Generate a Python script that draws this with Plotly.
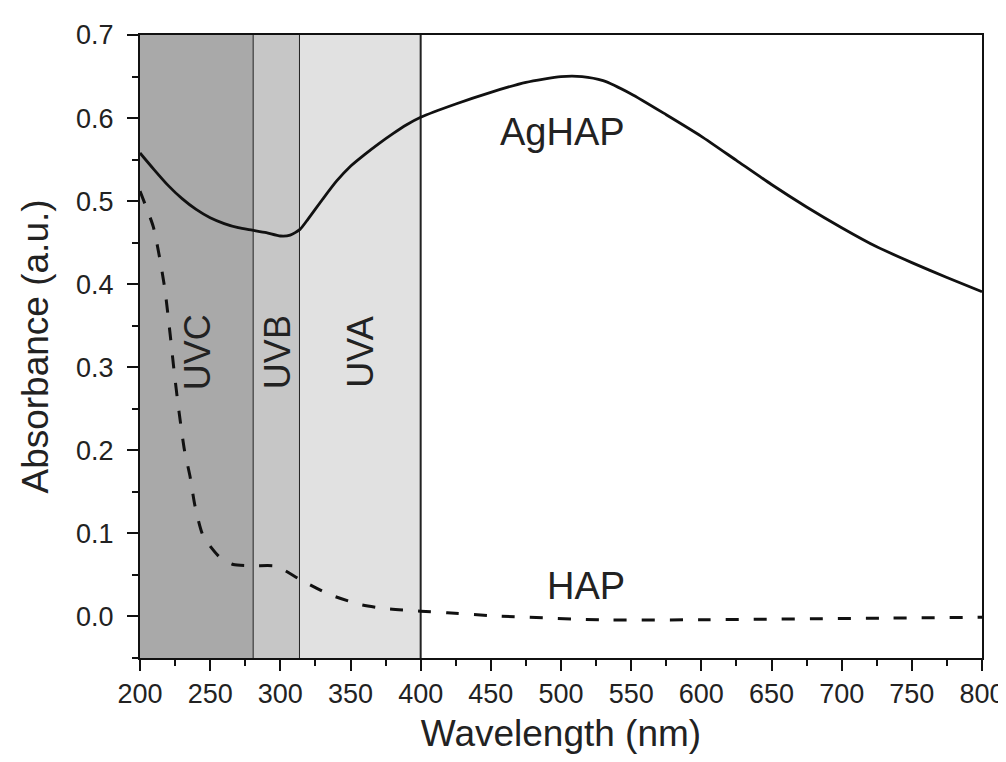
import plotly.graph_objects as go

# AgHAP spectrum (solid line)
ag_wl = [200, 210, 220, 230, 240, 250, 260, 270, 280, 290, 300, 307, 314, 320, 330, 340,
         350, 360, 370, 380, 390, 400, 425, 450, 475, 500, 515, 530, 550, 575, 600, 625,
         650, 675, 700, 725, 750, 775, 800]
ag_abs = [0.558, 0.538, 0.519, 0.503, 0.490, 0.480, 0.473, 0.468, 0.465, 0.462, 0.458,
          0.459, 0.466, 0.479, 0.502, 0.524, 0.542, 0.556, 0.569, 0.581, 0.592, 0.601,
          0.617, 0.631, 0.643, 0.650, 0.650, 0.645, 0.629, 0.604, 0.578, 0.549, 0.520,
          0.493, 0.468, 0.445, 0.426, 0.408, 0.391]

# HAP spectrum (dashed line)
hap_wl = [200, 209.5, 214.3, 217.8, 221.4, 224.2, 227.3, 231.6, 235.6, 239.2, 245, 257,
          266.5, 281, 297, 314, 335, 357, 376, 400, 419, 450, 528, 600, 730, 800]
hap_abs = [0.512, 0.469, 0.429, 0.393, 0.341, 0.297, 0.253, 0.201, 0.169, 0.133, 0.097,
           0.071, 0.0625, 0.061, 0.0605, 0.0445, 0.0265, 0.0144, 0.0092, 0.0064, 0.0044,
           0.001, -0.004, -0.004, -0.002, -0.001]

# UV bands
band_names = ["UVC", "UVB", "UVA"]
band_start = [200, 281, 314]
band_end = [281, 314, 400]
band_colors = ["#a9a9a9", "#c6c6c6", "#e1e1e1"]

font_family = "Liberation Sans, Arial, sans-serif"
y_min, y_max = -0.05, 0.7

fig = go.Figure()

# shaded bands + their boundary lines
for name, x0, x1, col in zip(band_names, band_start, band_end, band_colors):
    fig.add_shape(type="rect", xref="x", yref="y", x0=x0, x1=x1, y0=y_min, y1=y_max,
                  fillcolor=col, line_width=0, layer="below")
    fig.add_shape(type="line", xref="x", yref="y", x0=x1, x1=x1, y0=y_min, y1=y_max,
                  line=dict(color="#222222", width=2), layer="below")
    fig.add_annotation(x=(x0 + x1) / 2, y=0.318, text=name, showarrow=False, textangle=-90,
                       font=dict(family=font_family, size=36, color="#222222"))

fig.add_trace(go.Scatter(x=ag_wl, y=ag_abs, mode="lines", name="AgHAP",
                         line=dict(color="#111111", width=2.8, shape="spline", smoothing=0.6)))
fig.add_trace(go.Scatter(x=hap_wl, y=hap_abs, mode="lines", name="HAP",
                         line=dict(color="#111111", width=3, shape="spline", smoothing=0.6,
                                   dash="13px,15px")))

fig.add_annotation(x=501, y=0.583, text="AgHAP", showarrow=False,
                   font=dict(family=font_family, size=38, color="#222222"))
fig.add_annotation(x=518, y=0.037, text="HAP", showarrow=False,
                   font=dict(family=font_family, size=38, color="#222222"))

axis_common = dict(showline=True, linecolor="#111111", linewidth=2, mirror=True,
                   ticks="outside", ticklen=11, tickwidth=2, tickcolor="#111111",
                   showgrid=False, zeroline=False, automargin=False,
                   tickfont=dict(family=font_family, size=27, color="#222222"))

fig.update_xaxes(range=[200, 800], dtick=50, tick0=200,
                 minor=dict(ticks="outside", ticklen=6, tickwidth=2, tickcolor="#111111",
                            dtick=25, showgrid=False),
                 title=dict(text="Wavelength (nm)", standoff=12,
                            font=dict(family=font_family, size=37, color="#222222")),
                 **axis_common)
fig.update_yaxes(range=[y_min, y_max], dtick=0.1, tick0=0, tickformat=".1f",
                 ticklabelstandoff=8,
                 minor=dict(ticks="outside", ticklen=6, tickwidth=2, tickcolor="#111111",
                            dtick=0.05, tick0=0, showgrid=False),
                 title=dict(text="Absorbance (a.u.)", standoff=16,
                            font=dict(family=font_family, size=37, color="#222222")),
                 **axis_common)

# the page adds an 8px body margin, so the figure is a bit smaller than the window
fig.update_layout(width=998, height=754, showlegend=False,
                  plot_bgcolor="white", paper_bgcolor="white",
                  margin=dict(l=132, r=24, t=27, b=104))

fig.write_html("out.html")
